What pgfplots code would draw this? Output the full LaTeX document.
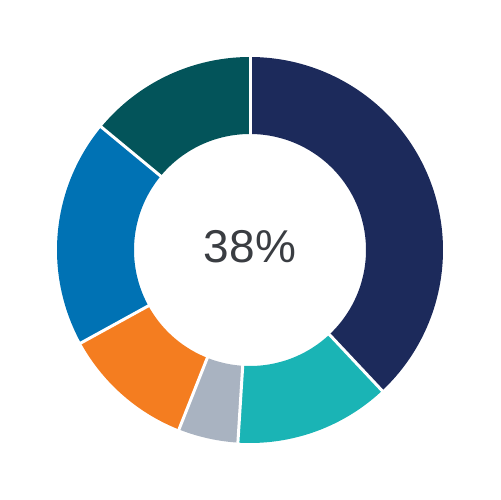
\documentclass[border=0pt]{standalone}
\usepackage{pgfplots}
\pgfplotsset{compat=1.18}
\usepackage{fontspec}
\setmainfont{Liberation Sans}

\definecolor{cNavy}{HTML}{1C2A5B}
\definecolor{cTeal}{HTML}{1AB4B5}
\definecolor{cGray}{HTML}{A9B3C1}
\definecolor{cOrange}{HTML}{F47D20}
\definecolor{cBlue}{HTML}{0072B4}
\definecolor{cGreen}{HTML}{03545A}
\definecolor{cText}{HTML}{3A3D42}

% shares (percent), clockwise from 12 o'clock:
% 38, 13, 5, 11, 19, 14  -> cumulative angles 0, 136.8, 183.6, 201.6, 241.2, 309.6, 360
\begin{document}
\begin{tikzpicture}
\begin{axis}[
    scale only axis,
    width=500bp, height=500bp,
    xmin=0, xmax=500, ymin=0, ymax=500,
    hide axis,
    clip=false,
    samples=90,
    variable=\r,
  ]
  % keep the full 500x500 canvas
  \path (axis cs:0,0) rectangle (axis cs:500,500);
  % ring: centre (250,250), mid radius 154.5, thickness 77
  \addplot[cNavy,   line width=77bp, domain=0:136.8]     ({250+154.5*sin(\r)},{250+154.5*cos(\r)});
  \addplot[cTeal,   line width=77bp, domain=136.8:183.6] ({250+154.5*sin(\r)},{250+154.5*cos(\r)});
  \addplot[cGray,   line width=77bp, domain=183.6:201.6] ({250+154.5*sin(\r)},{250+154.5*cos(\r)});
  \addplot[cOrange, line width=77bp, domain=201.6:241.2] ({250+154.5*sin(\r)},{250+154.5*cos(\r)});
  \addplot[cBlue,   line width=77bp, domain=241.2:309.6] ({250+154.5*sin(\r)},{250+154.5*cos(\r)});
  \addplot[cGreen,  line width=77bp, domain=309.6:360]   ({250+154.5*sin(\r)},{250+154.5*cos(\r)});
  % white separators between slices
  \foreach \a in {0,136.8,183.6,201.6,241.2,309.6} {
    \edef\tmp{\noexpand\addplot[white, line width=3bp, domain=112:198, samples=2]
      ({250+\noexpand\r*sin(\a)},{250+\noexpand\r*cos(\a)});}
    \tmp
  }
  \node[text=cText, font=\fontsize{46bp}{50bp}\selectfont] at (axis cs:250,253) {38\%};
\end{axis}
\end{tikzpicture}
\end{document}
